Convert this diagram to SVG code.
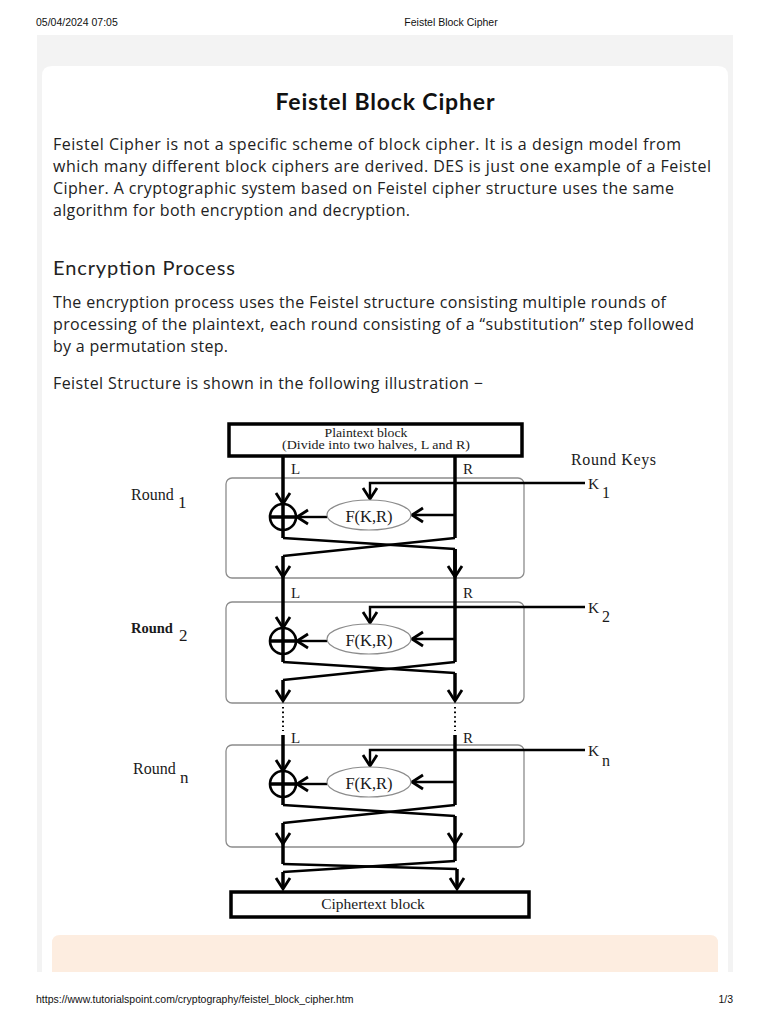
<svg xmlns="http://www.w3.org/2000/svg" xmlns:xlink="http://www.w3.org/1999/xlink" width="768" height="1024" viewBox="0 0 768 1024">
<style>
.hdr{font-family:"Liberation Sans",Arial,sans-serif;font-size:10.5px;fill:#111}
.h1{font-family:Lato,"Open Sans",sans-serif;font-size:23px;font-weight:700;fill:#111}
.h2{font-family:Lato,"Open Sans",sans-serif;font-size:20px;fill:#222}
.body{font-family:"Open Sans","Noto Sans",sans-serif;font-size:16px;fill:#222}
.serif{font-family:"Liberation Serif","Times New Roman",serif;fill:#1a1a1a}
.box{fill:#fff;stroke:#000;stroke-width:3.5}
.round{fill:none;stroke:#8c8c8c;stroke-width:1.3}
.fn{fill:#fff;stroke:#8c8c8c;stroke-width:1.2}
.xor{fill:#fff;stroke:#000;stroke-width:2.6}
.thick{fill:none;stroke:#000;stroke-width:3.5}
.thin{fill:none;stroke:#000;stroke-width:2.4}
.dot{fill:none;stroke:#000;stroke-width:2;stroke-dasharray:1.6 3}
.ah{fill:none;stroke:#000;stroke-width:2.8;stroke-linejoin:miter;stroke-linecap:butt}
</style>
<defs>
<path id="ad" d="M-7,-11 L0,0 L7,-11"/>
<path id="al" d="M11,-7 L0,0 L11,7"/>
</defs>

<!-- page -->
<rect x="0" y="0" width="768" height="1024" fill="#fff"/>
<text class="hdr" x="36" y="26">05/04/2024 07:05</text>
<text class="hdr" x="451" y="26" text-anchor="middle">Feistel Block Cipher</text>
<rect x="37" y="35" width="696" height="937" fill="#f3f3f3"/>
<path d="M42,972 V76 Q42,66 52,66 H718 Q728,66 728,76 V972 Z" fill="#fff"/>
<path d="M52,972 V943 Q52,935 60,935 H710 Q718,935 718,943 V972 Z" fill="#fdede0"/>
<text class="hdr" x="36" y="1003">https://www.tutorialspoint.com/cryptography/feistel_block_cipher.htm</text>
<text class="hdr" x="733" y="1003" text-anchor="end">1/3</text>

<!-- article text -->
<text class="h1" x="385" y="110" text-anchor="middle" textLength="219">Feistel Block Cipher</text>
<text class="body" x="53" y="150" textLength="628">Feistel Cipher is not a specific scheme of block cipher. It is a design model from</text>
<text class="body" x="53" y="172" textLength="658">which many different block ciphers are derived. DES is just one example of a Feistel</text>
<text class="body" x="53" y="194" textLength="621">Cipher. A cryptographic system based on Feistel cipher structure uses the same</text>
<text class="body" x="53" y="216" textLength="357">algorithm for both encryption and decryption.</text>
<text class="h2" x="53" y="275" textLength="182">Encryption Process</text>
<text class="body" x="53" y="308" textLength="613">The encryption process uses the Feistel structure consisting multiple rounds of</text>
<text class="body" x="53" y="330" textLength="641">processing of the plaintext, each round consisting of a “substitution” step followed</text>
<text class="body" x="53" y="352" textLength="175">by a permutation step.</text>
<text class="body" x="53" y="389" textLength="430">Feistel Structure is shown in the following illustration −</text>

<!-- round frames -->
<g id="round1">
<rect class="round" x="226" y="478" width="298" height="100" rx="6"/>
<text class="serif" x="131" y="500" font-size="16">Round</text>
<text class="serif" x="178" y="508" font-size="17">1</text>
</g>
<g id="round2">
<rect class="round" x="226" y="602" width="298" height="101" rx="6"/>
<text class="serif" x="131" y="633" font-size="14.5" font-weight="700">Round</text>
<text class="serif" x="179" y="641" font-size="17">2</text>
</g>
<g id="roundn">
<rect class="round" x="226" y="745" width="298" height="102" rx="6"/>
<text class="serif" x="133" y="774" font-size="16">Round</text>
<text class="serif" x="180" y="783" font-size="17">n</text>
</g>

<!-- connectors -->
<g id="connectors">
<!-- round 1 -->
<path class="thick" d="M283,457 V503"/>
<path class="thick" d="M283,530 V538"/>
<path class="thin" d="M283,538 L455,549"/>
<path class="thick" d="M455,549 V577"/>
<path class="thick" d="M455,457 V538"/>
<path class="thin" d="M455,538 L283,556"/>
<path class="thick" d="M283,556 V627"/>
<path class="thin" d="M585,483 H370 V498"/>
<path class="thin" d="M455,515 H413"/>
<path class="thin" d="M327,517 H298"/>
<use href="#ad" class="ah" x="283" y="504"/>
<use href="#ad" class="ah" x="370" y="499"/>
<use href="#al" class="ah" x="412" y="515"/>
<use href="#al" class="ah" x="297" y="517"/>
<use href="#ad" class="ah" x="283" y="577"/>
<use href="#ad" class="ah" x="455" y="577"/>
<!-- round 2 -->
<path class="thick" d="M455,549 V662"/>
<path class="thick" d="M283,654 V662"/>
<path class="thin" d="M283,662 L455,673"/>
<path class="thin" d="M455,662 L283,680"/>
<path class="thick" d="M283,680 V700"/>
<path class="thick" d="M455,673 V700"/>
<path class="thin" d="M585,607 H370 V622"/>
<path class="thin" d="M455,639 H413"/>
<path class="thin" d="M327,641 H298"/>
<use href="#ad" class="ah" x="283" y="628"/>
<use href="#ad" class="ah" x="370" y="623"/>
<use href="#al" class="ah" x="412" y="639"/>
<use href="#al" class="ah" x="297" y="641"/>
<use href="#ad" class="ah" x="283" y="701"/>
<use href="#ad" class="ah" x="455" y="701"/>
<path class="dot" d="M283,707 V731"/>
<path class="dot" d="M455,707 V731"/>
<!-- round n -->
<path class="thick" d="M283,735 V770"/>
<path class="thick" d="M455,735 V805"/>
<path class="thick" d="M283,797 V805"/>
<path class="thin" d="M283,805 L455,816"/>
<path class="thin" d="M455,805 L283,823"/>
<path class="thin" d="M585,750 H370 V765"/>
<path class="thin" d="M455,782 H413"/>
<path class="thin" d="M327,784 H298"/>
<use href="#ad" class="ah" x="283" y="771"/>
<use href="#ad" class="ah" x="370" y="766"/>
<use href="#al" class="ah" x="412" y="782"/>
<use href="#al" class="ah" x="297" y="784"/>
<path class="thick" d="M283,823 V864"/>
<path class="thick" d="M455,816 V861"/>
<use href="#ad" class="ah" x="283" y="844"/>
<use href="#ad" class="ah" x="455" y="844"/>
<!-- final swap -->
<path class="thin" d="M283,864 L457,869"/>
<path class="thin" d="M455,861 L283,872"/>
<path class="thick" d="M283,872 V888"/>
<path class="thick" d="M457,869 V888"/>
<use href="#ad" class="ah" x="283" y="889"/>
<use href="#ad" class="ah" x="457" y="889"/>
</g>

<!-- labels L / R -->
<g id="lr-labels" class="serif" font-size="15">
<text x="291" y="474">L</text><text x="463" y="474">R</text>
<text x="291" y="598">L</text><text x="463" y="598">R</text>
<text x="291" y="743">L</text><text x="463" y="743">R</text>
</g>

<!-- round keys -->
<g id="round-keys" class="serif">
<text x="571" y="465" font-size="16" textLength="85">Round Keys</text>
<text x="588" y="489" font-size="15.5">K</text><text x="602" y="498" font-size="16">1</text>
<text x="588" y="613" font-size="15.5">K</text><text x="602" y="622" font-size="16">2</text>
<text x="588" y="756" font-size="15.5">K</text><text x="602" y="766" font-size="16">n</text>
</g>

<!-- plaintext -->
<g id="plaintext">
<rect class="box" x="229" y="424" width="293" height="32"/>
<text class="serif" x="366" y="437" font-size="12.5" text-anchor="middle" textLength="83" lengthAdjust="spacingAndGlyphs">Plaintext block</text>
<text class="serif" x="376" y="449" font-size="12.5" text-anchor="middle" textLength="188" lengthAdjust="spacingAndGlyphs">(Divide into two halves, L and R)</text>
</g>

<!-- F functions -->
<g id="f1">
<ellipse class="fn" cx="369" cy="515" rx="42" ry="15"/>
<text class="serif" x="369" y="522" font-size="16.5" text-anchor="middle" fill="#222">F(K,R)</text>
</g>
<g id="f2">
<ellipse class="fn" cx="369" cy="639" rx="42" ry="15"/>
<text class="serif" x="369" y="646" font-size="16.5" text-anchor="middle" fill="#222">F(K,R)</text>
</g>
<g id="fn">
<ellipse class="fn" cx="369" cy="782" rx="42" ry="15"/>
<text class="serif" x="369" y="789" font-size="16.5" text-anchor="middle" fill="#222">F(K,R)</text>
</g>

<!-- XOR -->
<g id="xor1">
<circle class="xor" cx="283" cy="517" r="13"/>
<path class="thick" d="M283,505 V529 M271,517 H295"/>
</g>
<g id="xor2">
<circle class="xor" cx="283" cy="641" r="13"/>
<path class="thick" d="M283,629 V653 M271,641 H295"/>
</g>
<g id="xorn">
<circle class="xor" cx="283" cy="784" r="13"/>
<path class="thick" d="M283,772 V796 M271,784 H295"/>
</g>

<!-- ciphertext -->
<g id="ciphertext">
<rect class="box" x="231" y="892" width="298" height="25"/>
<text class="serif" x="373" y="909" font-size="15.5" text-anchor="middle">Ciphertext block</text>
</g>
</svg>
